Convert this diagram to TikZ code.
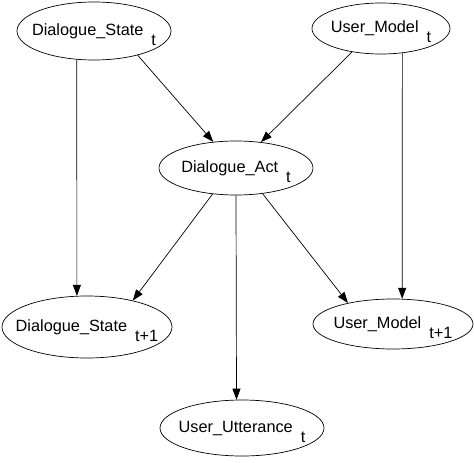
\documentclass[tikz,border=0pt]{standalone}
\usepackage{fontspec}
\setmainfont{Liberation Sans}
\usetikzlibrary{shapes.geometric,arrows.meta,positioning}

% variable name with its time index set lower, right of it
\newcommand{\varlbl}[2]{\makebox[0pt]{\smash{\raisebox{-4pt}{#1\hspace{8pt}\raisebox{-10pt}{#2}}}}}

\begin{document}
\begin{tikzpicture}[x=1pt,y=-1pt,
  var/.style={draw,ellipse,inner sep=0pt,line width=0.7pt,font=\fontsize{16.3}{19}\selectfont},
  arr/.style={-{Triangle[length=11pt,width=8pt]},line width=0.7pt}]
 \useasboundingbox (0,0) rectangle (474,463);

 % variables
 \node (dst) [var,minimum width=154pt,minimum height=58pt] at (94,31) {\varlbl{Dialogue\_State}{t}};
 \node (umt) [var,minimum width=138pt,minimum height=51pt] at (381,28.5) {\varlbl{User\_Model}{t}};
 \node (dat) [var,minimum width=154pt,minimum height=54pt] at (236,168) {\varlbl{Dialogue\_Act}{t}};
 \node (dsn) [var,minimum width=170pt,minimum height=62pt] at (87,327) {\varlbl{Dialogue\_State}{t+1}};
 \node (umn) [var,minimum width=160pt,minimum height=50pt] at (393,324) {\varlbl{User\_Model}{t+1}};
 \node (uut) [var,minimum width=164pt,minimum height=56pt] at (242,428) {\varlbl{User\_Utterance}{t}};

 % dependencies
 \draw[arr] (dst.239) -- (dsn.108);
 \draw[arr] (dst.331) -- (dat.131.5);
 \draw[arr] (umt.219) -- (dat.46);
 \draw[arr] (umt.311) -- (umn.70);
 \draw[arr] (dat.228) -- (dsn.30);
 \draw[arr] (dat.316) -- (umn.155);
 \draw[arr] (dat.270) -- (uut.101);
\end{tikzpicture}
\end{document}
